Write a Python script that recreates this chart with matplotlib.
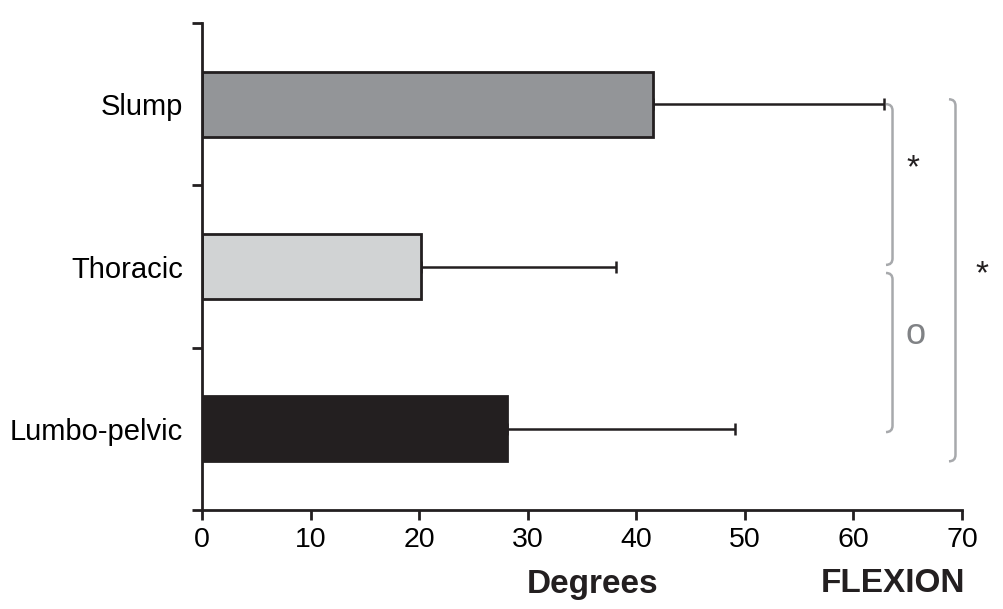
import matplotlib
matplotlib.use("Agg")
import matplotlib.pyplot as plt
from matplotlib.path import Path
from matplotlib.patches import PathPatch

plt.rcParams['font.family'] = ['Liberation Sans', 'DejaVu Sans']

# data (bottom to top)
categories = ["Lumbo-pelvic", "Thoracic", "Slump"]
means = [28.1, 20.2, 41.5]
sds = [21.0, 17.9, 21.3]
colors = ["#231f20", "#d1d3d4", "#939598"]
xticks = [0, 10, 20, 30, 40, 50, 60, 70]

# significance brackets: (y top, y bottom, x of spine, label, label x, label y)
brackets = [(2.0, 1.01, 63.6, "*", 65.5, 1.6),
            (0.96, -0.02, 63.6, "o", 65.7, 0.58),
            (2.03, -0.2, 69.4, "*", 71.8, 0.95)]

fig = plt.figure(figsize=(10.04, 6.09), dpi=100)
ax = fig.add_axes([202 / 1004, 1 - 510 / 609, 760 / 1004, 487 / 609])

ypos = list(range(len(categories)))
ax.barh(ypos, means, height=0.4, color=colors, edgecolor="#231f20", linewidth=2, zorder=2)
ax.errorbar(means, ypos, xerr=[[0] * 3, sds], fmt="none", ecolor="#231f20",
            elinewidth=1.8, capsize=4, capthick=1.8, zorder=1)

ax.set_xlim(0, 70)
ax.set_ylim(-0.5, 2.5)
ax.set_xticks(xticks)
ax.set_xticklabels([str(t) for t in xticks], fontsize=20.5)
ax.set_yticks(ypos)
ax.set_yticklabels(categories, fontsize=21)
ax.tick_params(axis="y", which="major", length=0, pad=13.5)
ax.set_yticks([-0.5, 0.5, 1.5, 2.5], minor=True)
ax.tick_params(axis="y", which="minor", length=7, width=2, color="#231f20")
ax.tick_params(axis="x", length=7, width=2, color="#231f20", pad=5)
for s in ["top", "right"]:
    ax.spines[s].set_visible(False)
for s in ["left", "bottom"]:
    ax.spines[s].set_linewidth(2)
    ax.spines[s].set_color("#231f20")

# brackets on the right
for ytop, ybot, xs, lab, lx, ly in brackets:
    arm = 0.6
    r = 0.04
    verts = [(xs - arm, ytop), (xs, ytop), (xs, ytop - r),
             (xs, ybot + r), (xs, ybot), (xs - arm, ybot)]
    codes = [Path.MOVETO, Path.CURVE3, Path.CURVE3,
             Path.LINETO, Path.CURVE3, Path.CURVE3]
    ax.add_patch(PathPatch(Path(verts, codes), fill=False, edgecolor="#a7a9ac",
                           linewidth=1.8, clip_on=False))
    if lab == "*":
        ax.text(lx, ly, "*", fontsize=24, ha="center", va="center",
                color="#231f20", clip_on=False)
    else:
        ax.text(lx, ly, "o", fontsize=26, ha="center", va="center",
                color="#808285", clip_on=False)

fig.text(593 / 1004, 1 - 584 / 609, "Degrees", fontsize=24, fontweight="bold",
         ha="center", va="center", color="#231f20")
fig.text(893 / 1004, 1 - 584 / 609, "FLEXION", fontsize=24, fontweight="bold",
         ha="center", va="center", color="#231f20")

fig.savefig("out.png", dpi=100)
